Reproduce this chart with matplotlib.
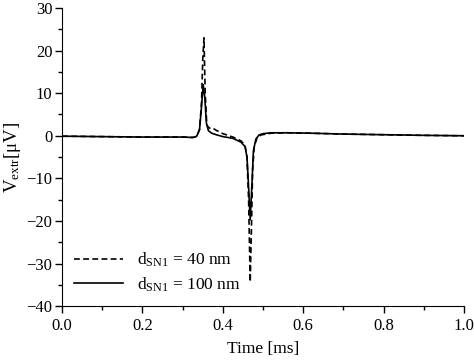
import matplotlib.pyplot as plt
from matplotlib.ticker import MultipleLocator

plt.rcParams["font.family"] = ["Liberation Serif", "DejaVu Serif"]
plt.rcParams["mathtext.fontset"] = "custom"
plt.rcParams["mathtext.rm"] = "Liberation Serif"
plt.rcParams["mathtext.it"] = "Liberation Serif"

# values (time in ms, V_extr in uV)
t_40 = [0.0, 0.1, 0.2, 0.3, 0.325, 0.335, 0.342, 0.347, 0.350, 0.353, 0.356,
        0.360, 0.366, 0.373, 0.385, 0.40, 0.425, 0.445, 0.455, 0.460, 0.464,
        0.468, 0.471, 0.474, 0.478, 0.485, 0.495, 0.52, 0.56, 0.62, 0.70,
        0.80, 0.90, 1.0]
v_40 = [-0.1, -0.2, -0.3, -0.3, -0.4, -0.2, 1.5, 8.0, 18.0, 23.0, 10.0,
        2.5, 1.8, 1.9, 1.2, 0.5, -0.3, -1.2, -2.2, -5.0, -15.0,
        -34.3, -22.0, -8.0, -2.5, -0.5, 0.2, 0.6, 0.7, 0.6, 0.4,
        0.25, 0.1, 0.0]

t_100 = [0.0, 0.1, 0.2, 0.3, 0.325, 0.335, 0.342, 0.347, 0.351, 0.355, 0.359,
         0.364, 0.372, 0.385, 0.40, 0.425, 0.445, 0.455, 0.460, 0.464,
         0.468, 0.472, 0.476, 0.482, 0.49, 0.50, 0.52, 0.56, 0.62, 0.70,
         0.80, 0.90, 1.0]
v_100 = [-0.1, -0.2, -0.3, -0.3, -0.4, -0.1, 1.5, 7.0, 12.0, 9.0, 3.0,
         1.2, 0.6, 0.2, -0.2, -0.6, -1.5, -2.5, -5.0, -12.0,
         -19.7, -12.0, -3.5, -0.8, 0.2, 0.5, 0.7, 0.7, 0.6, 0.4,
         0.25, 0.1, 0.0]

fig = plt.figure(figsize=(4.74, 3.64), dpi=100)
ax = fig.add_axes([0.131, 0.159, 0.848, 0.819])

ax.plot(t_40, v_40, color="black", linestyle="--", linewidth=1.2,
        dashes=(3.5, 2), label=r"d$_{\rm SN1}$ = 40 nm")
ax.plot(t_100, v_100, color="black", linestyle="-", linewidth=1.2,
        label=r"d$_{\rm SN1}$ = 100 nm")

ax.set_xlim(0.0, 1.0)
ax.set_ylim(-40, 30)
ax.xaxis.set_major_locator(MultipleLocator(0.2))
ax.xaxis.set_minor_locator(MultipleLocator(0.1))
ax.yaxis.set_major_locator(MultipleLocator(10))
ax.yaxis.set_minor_locator(MultipleLocator(5))
ax.set_xticklabels([f"{v:.1f}" for v in ax.get_xticks()])

ax.spines["top"].set_visible(False)
ax.spines["right"].set_visible(False)
ax.tick_params(which="major", direction="out", length=5, width=1, labelsize=12)
ax.tick_params(which="minor", direction="out", length=3, width=1)
ax.tick_params(axis="y", which="major", pad=2)

ax.set_xlabel("Time [ms]", fontsize=12.5, labelpad=5)
ax.set_ylabel(r"V$_{\rm extr}$[$\mu$V]", fontsize=13.5)
ax.yaxis.set_label_coords(-0.098, 0.5)

ax.legend(loc="lower left", frameon=False, fontsize=12.5, handlelength=2.8,
          borderaxespad=0.3, labelspacing=0.35)

fig.savefig("out.png", dpi=100)
